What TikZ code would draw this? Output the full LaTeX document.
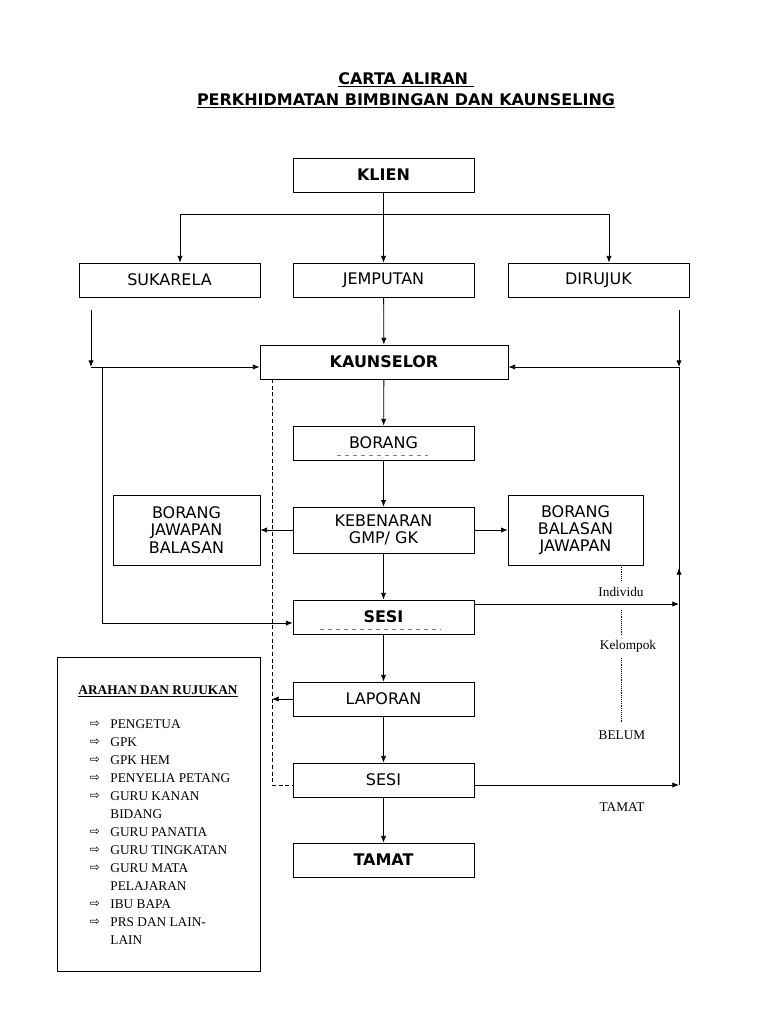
\documentclass[tikz,border=0pt]{standalone}
\usepackage{fontspec}
\setmainfont{DejaVu Sans}
\newfontfamily\serif{Liberation Serif}
\usetikzlibrary{arrows.meta}
\begin{document}
\begin{tikzpicture}[x=0.0264cm,y=-0.0264cm,line width=0.6pt,
    box/.style={draw,minimum width=4.78cm,minimum height=0.9cm,inner sep=1pt,align=center,font=\fontsize{12}{13}\selectfont},
    sidebox/.style={box,minimum width=3.88cm,minimum height=1.85cm},
    lbl/.style={font=\serif\fontsize{10}{11}\selectfont},
    arr/.style={-{Latex[length=5pt,width=4pt]}}]
    \useasboundingbox (0,0) rectangle (768,1024);
    % judul
    \node[font=\bfseries\fontsize{12}{13}\selectfont] (t1) at (406,80) {\underline{CARTA ALIRAN\ }};
    \node[font=\bfseries\fontsize{12}{13}\selectfont] (t2) at (406,101) {\underline{PERKHIDMATAN BIMBINGAN DAN KAUNSELING}};

    % kotak utama
    \node[box,font=\bfseries\fontsize{12}{13}\selectfont] (klien) at (383.5,175) {KLIEN};
    \node[box] (sukarela) at (169.5,280) {SUKARELA};
    \node[box] (jemputan) at (383.5,280) {JEMPUTAN};
    \node[box] (dirujuk) at (598.5,280) {DIRUJUK};
    \node[box,minimum width=6.55cm,font=\bfseries\fontsize{12}{13}\selectfont] (kaunselor) at (384,362) {KAUNSELOR};
    \node[box] (borang) at (383.5,443) {BORANG};
    \node[box,minimum height=1.21cm] (kebenaran) at (383.5,530) {KEBENARAN\\GMP/ GK};
    \node[sidebox] (jawapan) at (186.5,530) {BORANG\\JAWAPAN\\BALASAN};
    \node[sidebox,minimum width=3.56cm] (balasan) at (575.5,530) {BORANG\\BALASAN\\JAWAPAN};
    \node[box,font=\bfseries\fontsize{12}{13}\selectfont] (sesi) at (383.5,617) {SESI};
    \node[box] (laporan) at (383.5,699) {LAPORAN};
    \node[box] (sesii) at (383.5,780) {SESI};
    \node[box,font=\bfseries\fontsize{12}{13}\selectfont] (tamat) at (383.5,860) {TAMAT};

    % garis putus kecil di bawah teks
    \draw[gray,dashed,line width=0.3pt] (337,455) -- (428,455);
    \draw[gray,dashed,line width=0.3pt] (320,629) -- (440,629);

    % cabang dari klien
    \coordinate (j1) at (383.5,214);
    \draw (klien.south) -- (j1);
    \draw[arr] (180,214) -- (sukarela.north -| 180,0);
    \draw (180,214) -- (609,214);
    \draw[arr] (j1) -- (jemputan.north);
    \draw[arr] (609,214) -- (dirujuk.north -| 609,0);

    % ke kaunselor
    \coordinate (ls) at (91,310);
    \coordinate (lj) at (91,367);
    \coordinate (rs) at (679,310);
    \coordinate (rj) at (679,367);
    \draw[arr] (ls) -- (lj);
    \draw[arr] (rs) -- (rj);
    \draw[arr] (lj) -- (kaunselor.west |- lj);
    \draw[arr] (rj) -- (kaunselor.east |- rj);
    \draw[arr] (jemputan) -- (kaunselor);

    % aliran tengah
    \draw[arr] (kaunselor) -- (borang);
    \draw[arr] (borang) -- (kebenaran);
    \draw[arr] (kebenaran) -- (jawapan);
    \draw[arr] (kebenaran) -- (balasan);
    \draw[arr] (kebenaran) -- (sesi);
    \draw[arr] (sesi) -- (laporan);
    \draw[arr] (laporan) -- (sesii);
    \draw[arr] (sesii) -- (tamat);

    % laluan kiri
    \draw[arr] (102,367) -- (102,623) -- (sesi.west |- 0,623);

    % laluan kanan
    \coordinate (r1) at (679,604);
    \coordinate (r2) at (679,785);
    \draw[arr] (sesi.east |- r1) -- (r1);
    \draw[arr] (sesii.east |- r2) -- (r2);
    \draw (r2) -- (rj);
    \draw[arr] (r2) -- (679,568);

    % garis putus-putus kiri
    \draw[densely dashed,line width=0.4pt] (272,379) -- (272,785) -- (sesii.west |- 0,785);
    \draw[arr] (laporan.west) -- (272,699);

    % label kanan
    \draw[densely dotted,line width=0.4pt] (621,565) -- (621,580);
    \draw[densely dotted,line width=0.4pt] (621,610) -- (621,635);
    \draw[densely dotted,line width=0.4pt] (621,658) -- (621,722);
    \node[lbl] (ind) at (621,592) {Individu};
    \node[lbl] (kel) at (628,646) {Kelompok};
    \node[lbl] (bel) at (622,735) {BELUM};
    \node[lbl] (tam) at (622,807) {TAMAT};

    % kotak arahan
    \draw (57,657) rectangle (260,971);
    \node[lbl,font=\serif\bfseries\fontsize{10}{11}\selectfont] (arahan) at (158,691) {\underline{ARAHAN DAN RUJUKAN}};
    \foreach \t/\y in {PENGETUA/724,GPK/742,GPK HEM/760,PENYELIA PETANG/778,GURU KANAN/796,GURU PANATIA/832,GURU TINGKATAN/850,GURU MATA/868,IBU BAPA/904,PRS DAN LAIN-/922}{
        \node[font=\fontsize{9}{10}\selectfont] at (95,\y) {⇨};
        \node[lbl,anchor=west,inner sep=0pt] at (110,\y) {\t};
    }
    \foreach \t/\y in {BIDANG/814,PELAJARAN/886,LAIN/940}
        \node[lbl,anchor=west,inner sep=0pt] at (110,\y) {\t};
\end{tikzpicture}
\end{document}
